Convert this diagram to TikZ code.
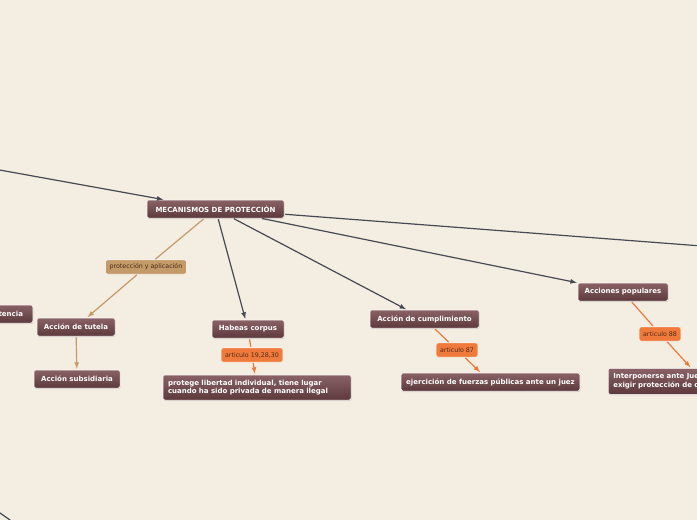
\documentclass[tikz,border=0pt]{standalone}
\usepackage{fontspec}
\setmainfont{DejaVu Sans}
\usetikzlibrary{shadows}

\definecolor{paper}{HTML}{F4EDE2}
\definecolor{topictop}{HTML}{8A6266}
\definecolor{topicbot}{HTML}{5C393C}
\definecolor{linkgray}{HTML}{474A52}
\definecolor{linktan}{HTML}{C49A68}
\definecolor{linkorange}{HTML}{F07A3C}
\definecolor{labeltext}{HTML}{4E2A18}

\tikzset{
  topic/.style={rounded corners=2pt, draw=white, line width=0.5pt,
    top color=topictop, bottom color=topicbot, text=white,
    font=\bfseries\fontsize{7}{8.4}\selectfont, minimum height=18pt,
    inner xsep=5pt, inner ysep=2pt,
    drop shadow={opacity=0.25, shadow xshift=0.6pt, shadow yshift=-1pt}},
  tanlabel/.style={rounded corners=2pt, draw=white, line width=0.4pt,
    fill=linktan, text=labeltext, font=\fontsize{6.3}{7.5}\selectfont,
    minimum height=14pt, inner xsep=4pt},
  orangelabel/.style={tanlabel, fill=linkorange},
  graylink/.style={draw=linkgray, line width=1.2pt, -latex,
    shorten >=1pt, shorten <=1pt},
  tanlink/.style={graylink, draw=linktan},
  orangelink/.style={graylink, draw=linkorange}
}

\begin{document}
\begin{tikzpicture}[x=1pt, y=-1pt]
  % Background and page size
  \fill[paper] (0,0) rectangle (697,520);
  \useasboundingbox (0,0) rectangle (697,520);

  % Off-page ends of connectors
  \coordinate (west) at (-100,152); % parent node, left of the page
  \coordinate (east) at (820,255); % next branch, right of the page
  \coordinate (swa) at (-30,492); % link crossing the lower left corner
  \coordinate (swb) at (30,534);

  % Central topic
  \node[topic, minimum width=137pt] (mec) at (215.5,209) {MECANISMOS DE PROTECCIÓN};

  % Main branches
  \node[topic, anchor=east, minimum width=60pt] (asist) at (33,314) {Asistencia};
  \node[topic, minimum width=78pt] (tutela) at (76,327) {Acción de tutela};
  \node[topic, minimum width=72pt] (habeas) at (248,329) {Habeas corpus};
  \node[topic, minimum width=109pt] (cumpl) at (424.5,319) {Acción de cumplimiento};
  \node[topic, minimum width=90pt] (popul) at (623,292) {Acciones populares};

  % Sub topics
  \node[topic, text width=178pt, minimum height=25pt, align=left] (protege) at (257,387.5)
    {protege libertad individual, tiene lugar\\cuando ha sido privada de manera ilegal};
  \node[topic, minimum width=86pt] (subsid) at (77,379) {Acción subsidiaria};
  \node[topic, minimum width=177pt] (ejerc) at (490.5,382) {ejercición de fuerzas públicas ante un juez};
  \node[topic, anchor=north west, text width=180pt, minimum height=26pt, align=left] (interp) at (608,368)
    {Interponerse ante Juez para\\exigir protección de derechos};

  % Connector labels
  \node[tanlabel] (lprot) at (146,267) {protección y aplicación};
  \node[orangelabel] (lhab) at (252,355) {articulo 19,28,30};
  \node[orangelabel] (lcum) at (457,350) {articulo 87};
  \node[orangelabel] (lpop) at (660,334) {articulo 88};

  % Gray connectors
  \draw[graylink] (west) -- (mec);
  \draw[graylink] (mec) -- (east);
  \draw[graylink] (mec) -- (habeas);
  \draw[graylink] (mec) -- (cumpl);
  \draw[graylink] (mec) -- (popul);
  \draw[graylink, -] (swa) -- (swb);

  % Tan connectors
  \draw[tanlink, -] (mec) -- (lprot);
  \draw[tanlink] (lprot) -- (tutela);
  \draw[tanlink] (tutela) -- (subsid);

  % Orange connectors
  \draw[orangelink, -] (habeas) -- (lhab);
  \draw[orangelink] (lhab) -- (protege);
  \draw[orangelink, -] (cumpl) -- (lcum);
  \draw[orangelink] (lcum) -- (ejerc);
  \draw[orangelink, -] (popul) -- (lpop);
  \draw[orangelink] (lpop) -- (interp);
\end{tikzpicture}
\end{document}
